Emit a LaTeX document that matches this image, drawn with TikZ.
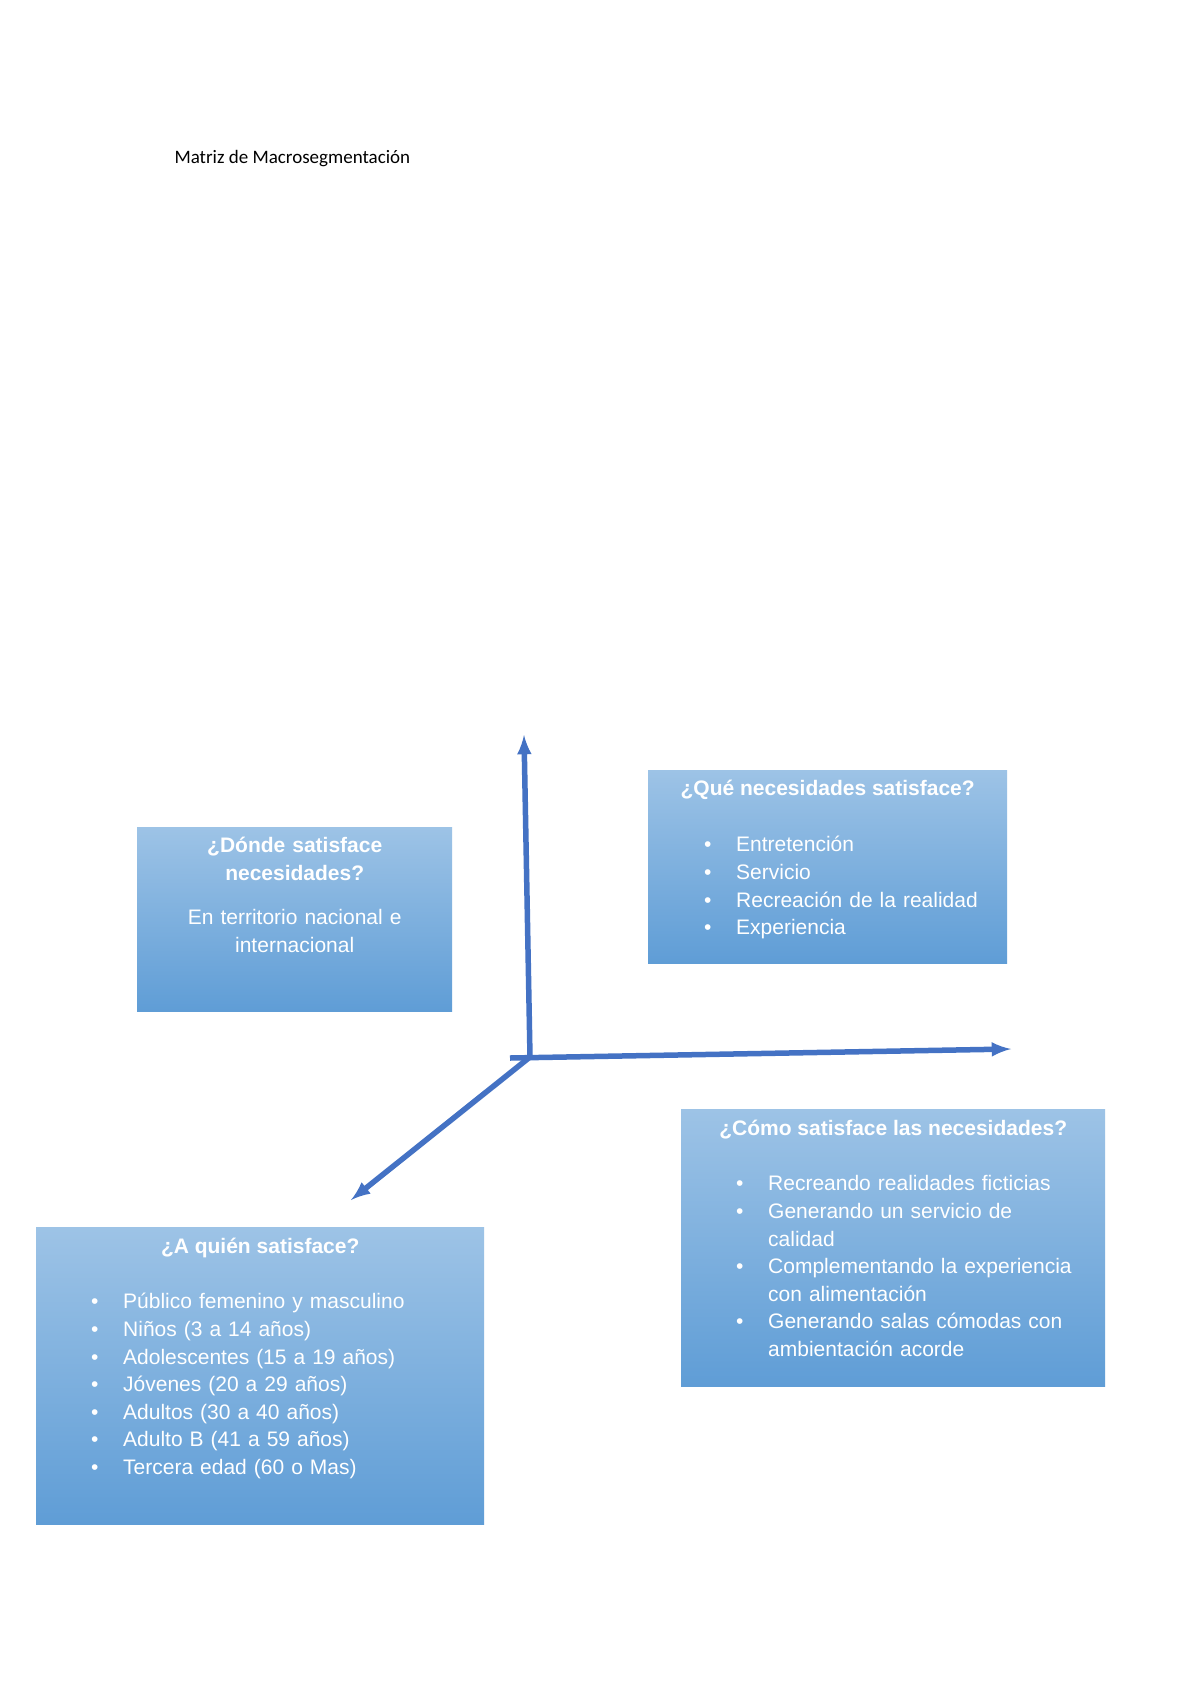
\documentclass[tikz,border=0pt]{standalone}
\usepackage{fontspec}
\setmainfont{Liberation Sans}
\newfontfamily\titlefont{Carlito}
\usepackage{enumitem}
\usetikzlibrary{positioning}
\definecolor{axisblue}{HTML}{4472C4}
\definecolor{boxtop}{HTML}{9DC3E6}
\definecolor{boxbot}{HTML}{5F9DD6}
\newcommand{\boxlist}[1]{\begin{itemize}[leftmargin=32pt,labelwidth=8pt,labelsep=24pt,align=left,itemsep=0pt,parsep=0pt,topsep=0pt,partopsep=0pt]#1\end{itemize}}
\tikzset{
  panel/.style={anchor=north west,top color=boxtop,bottom color=boxbot,draw=none,inner sep=0pt},
  head/.style={anchor=north,text=white,font=\fontsize{21}{27.6}\selectfont\bfseries,align=center,inner sep=0pt},
  body/.style={anchor=north west,text=white,font=\fontsize{21}{27.6}\selectfont,inner sep=0pt},
  axis/.style={axisblue,line width=5.5pt,-latex}
}
\begin{document}
\begin{tikzpicture}[x=1pt,y=-1pt]
   \useasboundingbox (0,0) rectangle (1200,1698);
   \fill[white] (0,0) rectangle (1200,1698);
   \node[anchor=base west,font=\titlefont\fontsize{19}{23}\selectfont] (title) at (171,163) {Matriz de Macrosegmentación};

   % axes
   \coordinate (o) at (530,1057);
   \coordinate (up) at (524,735);
   \coordinate (right) at (1011,1049);
   \coordinate (down) at (351,1200);
   \coordinate (tail) at (510,1058);
   \draw[axis] (o) -- (up);
   \draw[axis] (tail) -- (right);
   \draw[axis] (o) -- (down);

   % donde
   \node[panel,minimum width=315pt,minimum height=184pt] (donde) at (137,827) {};
   \node[head,text width=260pt] (dondeh) at ([yshift=-10pt]donde.north) {¿Dónde satisface\\necesidades?};
   \node[head,font=\fontsize{21}{27.6}\selectfont,text width=280pt] (dondeb) at ([yshift=-82pt]donde.north) {En territorio nacional e\\internacional};

   % que
   \node[panel,minimum width=359pt,minimum height=193pt] (que) at (648,770) {};
   \node[head] (queh) at ([yshift=-10pt]que.north) {¿Qué necesidades satisface?};
   \node[body,text width=280pt] (queb) at ([xshift=56pt,yshift=-54pt]que.north west) {\boxlist{\item Entretención \item Servicio \item Recreación de la realidad \item Experiencia}};

   % como
   \node[panel,minimum width=424pt,minimum height=277pt] (como) at (681,1109) {};
   \node[head] (comoh) at ([yshift=-11pt]como.north) {¿Cómo satisface las necesidades?};
   \node[body,text width=340pt] (comob) at ([xshift=55pt,yshift=-54pt]como.north west) {\boxlist{\item Recreando realidades ficticias \item Generando un servicio de calidad \item Complementando la experiencia con alimentación \item Generando salas cómodas con ambientación acorde}};

   % quien
   \node[panel,minimum width=448pt,minimum height=297pt] (quien) at (36,1227) {};
   \node[head] (quienh) at ([yshift=-11pt]quien.north) {¿A quién satisface?};
   \node[body,text width=380pt] (quienb) at ([xshift=55pt,yshift=-54pt]quien.north west) {\boxlist{\item Público femenino y masculino \item Niños (3 a 14 años) \item Adolescentes (15 a 19 años) \item Jóvenes (20 a 29 años) \item Adultos (30 a 40 años) \item Adulto B (41 a 59 años) \item Tercera edad (60 o Mas)}};
\end{tikzpicture}
\end{document}
